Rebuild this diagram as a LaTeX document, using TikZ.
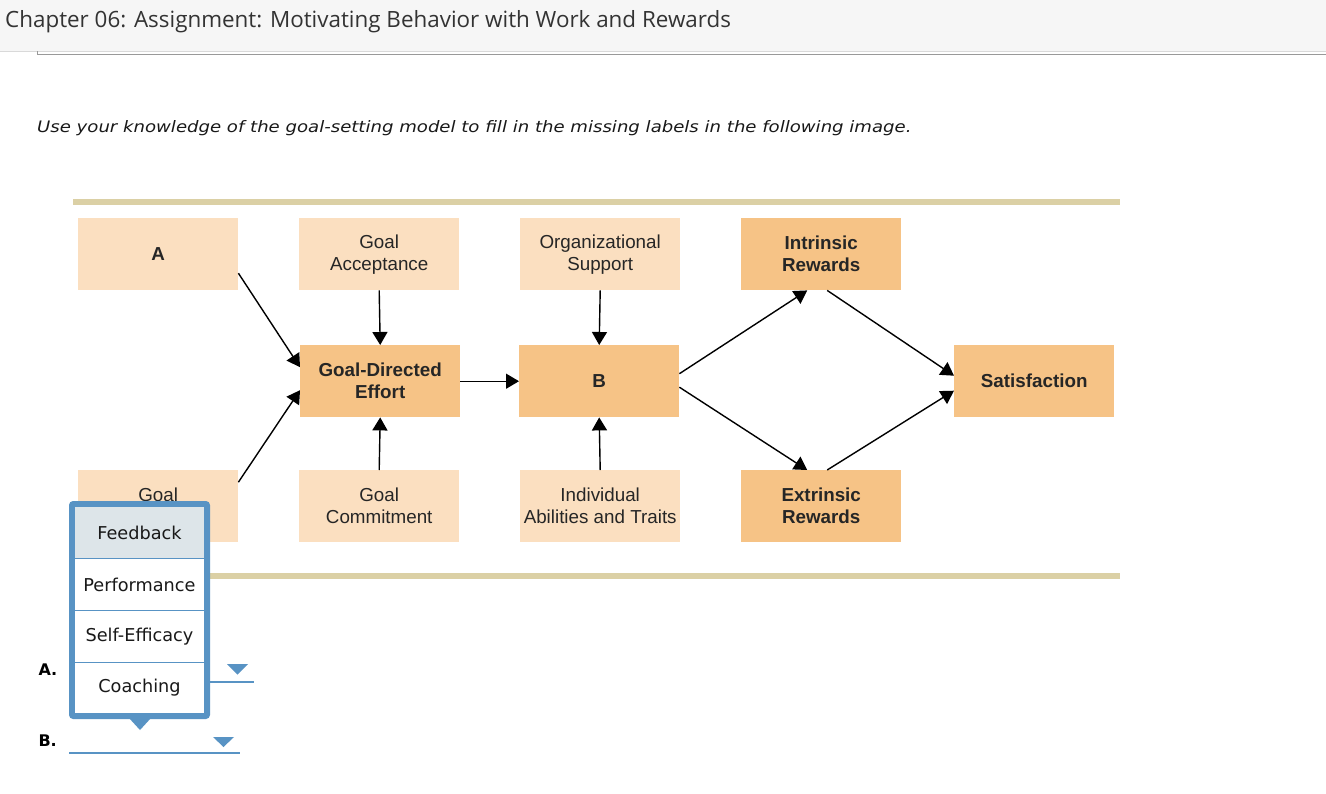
\documentclass[tikz,border=0pt]{standalone}
\usepackage{fontspec}
\setmainfont{Liberation Sans}
\newfontfamily\dvs{DejaVu Sans}
\newfontfamily\osans{Open Sans}
\usetikzlibrary{arrows.meta}
\definecolor{lightbox}{HTML}{FBDFC0}
\definecolor{darkbox}{HTML}{F6C386}
\definecolor{barc}{HTML}{DBD0A5}
\definecolor{ddblue}{HTML}{5893C4}
\definecolor{hilite}{HTML}{DDE5E9}
\definecolor{headbg}{HTML}{F6F6F6}
\begin{document}
\begin{tikzpicture}[x=1pt,y=-1pt,
  box/.style={minimum width=160pt,minimum height=72pt,inner sep=0pt,anchor=north west,align=center,text=black!85},
  lightb/.style={box,fill=lightbox,font=\fontsize{18.8}{22}\selectfont},
  darkb/.style={box,fill=darkbox,font=\fontsize{18.8}{22}\selectfont\bfseries},
  arr/.style={line width=1.4pt,-{Triangle[length=13pt,width=15pt]}},
  ddline/.style={ddblue,line width=2pt},
  ddtri/.style={fill=ddblue},
  item/.style={minimum width=129pt,minimum height=51pt,inner sep=0pt,font=\dvs\fontsize{17.7}{20}\selectfont,text=black!90},
  lbl/.style={font=\dvs\bfseries\fontsize{16}{19}\selectfont,anchor=west}
]
\useasboundingbox (0,0) rectangle (1326,793);
\fill[white] (0,0) rectangle (1326,793);
% header
\fill[headbg] (0,0) rectangle (1326,51);
\draw[black!15,line width=1pt] (0,51) -- (1326,51);
\draw[black!40,line width=1pt] (37,51) -- (37,54) -- (1326,54);
\node[anchor=west,font=\osans\fontsize{22.4}{26}\selectfont,text=black!80,inner sep=0pt] (title) at (5,22) {Chapter 06: Assignment: Motivating Behavior with Work and Rewards};
\node[anchor=west,font=\dvs\itshape\fontsize{15.8}{18}\selectfont,text=black!90,inner sep=0pt] (instr) at (37,128) {\scalebox{1.145}[1]{Use your knowledge of the goal-setting model to fill in the missing labels in the following image.}};
% bars
\fill[barc] (73,199) rectangle (1120,204.5);
\fill[barc] (73,573) rectangle (1120,578.5);
% boxes
\node[lightb] (A) at (78,218) {\bfseries A};
\node[lightb] (GA) at (299,218) {Goal\\Acceptance};
\node[lightb] (OS) at (520,218) {Organizational\\Support};
\node[darkb] (IR) at (741,218) {Intrinsic\\Rewards};
\node[darkb] (GDE) at (300,345) {Goal-Directed\\Effort};
\node[darkb] (B) at (519,345) {B};
\node[darkb] (SAT) at (954,345) {Satisfaction};
\node[lightb] (GL) at (78,470) {Goal\\\phantom{Goal}};
\node[lightb] (GC) at (299,470) {Goal\\Commitment};
\node[lightb] (IAT) at (520,470) {Individual\\Abilities and Traits};
\node[darkb] (ER) at (741,470) {Extrinsic\\Rewards};
% arrows
\draw[arr] ([yshift=-19pt]A.east) -- ([yshift=14pt]GDE.west);
\draw[arr] ([yshift=24pt]GL.east) -- ([yshift=-9pt]GDE.west);
\draw[arr] (GA.south) -- (GDE.north);
\draw[arr] (GC.north) -- (GDE.south);
\draw[arr] (GDE.east) -- (B.west);
\draw[arr] (OS.south) -- (B.north);
\draw[arr] (IAT.north) -- (B.south);
\draw[arr] ([yshift=7.5pt]B.east) -- ([xshift=-14pt]IR.south);
\draw[arr] ([xshift=6pt]IR.south) -- ([yshift=5.5pt]SAT.west);
\draw[arr] ([yshift=-6pt]B.east) -- ([xshift=-14pt]ER.north);
\draw[arr] ([xshift=6pt]ER.north) -- ([yshift=-9.5pt]SAT.west);
% answer lines
\node[lbl] (la) at (35,670) {A.};
\node[lbl] (lb) at (35,741) {B.};
\draw[ddline] (69,682) -- (254,682);
\fill[ddtri] (227,664) -- (248,664) -- (237.5,674.5) -- cycle;
\draw[ddline] (69,753) -- (240,753);
\fill[ddtri] (213,737) -- (234,737) -- (223.5,747) -- cycle;
% dropdown
\fill[ddblue,rounded corners=4pt] (69,501) rectangle (210,719);
\fill[ddblue] (129,718) -- (151,718) -- (140,730) -- cycle;
\fill[white] (75,507) rectangle (204,713);
\node[item,fill=hilite] (i1) at (139.5,532.5) {Feedback};
\node[item] (i2) at (139.5,584.5) {Performance};
\node[item] (i3) at (139.5,636.5) {Self-Efficacy};
\node[item] (i4) at (139.5,688) {Coaching};
\draw[ddblue,line width=1pt] (75,558.5) -- (204,558.5);
\draw[ddblue,line width=1pt] (75,610.5) -- (204,610.5);
\draw[ddblue,line width=1pt] (75,662.5) -- (204,662.5);
\end{tikzpicture}
\end{document}
